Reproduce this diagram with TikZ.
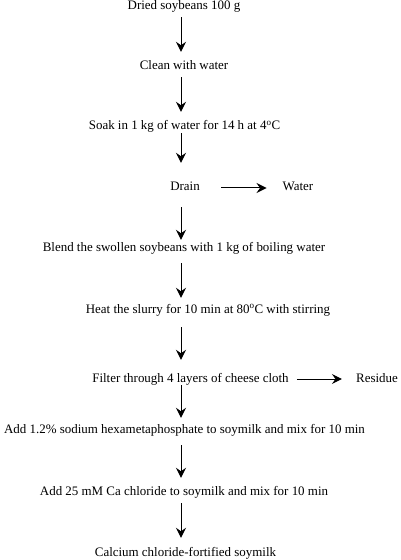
\documentclass[tikz,border=0pt]{standalone}
\usepackage{fontspec}
\setmainfont{Liberation Serif}
\usetikzlibrary{arrows.meta}
\tikzstyle{stage}=[inner sep=0pt,text height=9bp,text depth=3bp,font=\fontsize{13}{15}\selectfont]
\tikzstyle{flow} = [draw,line width=1bp,-{Stealth[length=10bp,width=10bp,inset=3.5bp]}]
\tikzstyle{down} = [flow]
\tikzstyle{side} = [flow]

\begin{document}
\begin{tikzpicture}[x=1bp,y=-1bp]
  \useasboundingbox (0,0) rectangle (400,560);

  % define the process steps
  \foreach \pos/\name/\label in {
    {(184,7)/Dried soybeans 100 g/dried},
    {(184,67)/Clean with water/clean},
    {(184.5,127)/Soak in 1 kg of water for 14 h at 4\textsuperscript{o}C/soak},
    {(185,188)/Drain/drain},
    {(298,188)/Water/water},
    {(184,248)/Blend the swollen soybeans with 1 kg of boiling water/blend},
    {(208,310)/Heat the slurry for 10 min at 80\textsuperscript{o}C with stirring/heat},
    {(190.5,379)/Filter through 4 layers of cheese cloth/filter},
    {(377,379)/Residue/residue},
    {(184.5,430)/Add 1.2\% sodium hexametaphosphate to soymilk and mix for 10 min/addhmp},
    {(184,492)/Add 25 mM Ca chloride to soymilk and mix for 10 min/addcacl},
    {(185.5,553)/Calcium chloride-fortified soymilk/soymilk}}
    \node[stage] (\label) at \pos {\name} ;

  \coordinate (spine) at (181,0);

  % main line, straight down
  \path[down, shorten <=4bp, shorten >=9bp]  (dried.south -| spine)  -- (clean.north -| spine);
  \path[down, shorten <=4bp, shorten >=9bp]  (clean.south -| spine)  -- (soak.north -| spine);
  \path[down, shorten <=0bp, shorten >=19bp]  (soak.south -| spine)  -- (drain.north -| spine);
  \path[down, shorten <=13bp, shorten >=2bp]  (drain.south -| spine)  -- (blend.north -| spine);
  \path[down, shorten <=9bp, shorten >=6bp]  (blend.south -| spine)  -- (heat.north -| spine);
  \path[down, shorten <=11bp, shorten >=13bp]  (heat.south -| spine)  -- (filter.north -| spine);
  \path[down, shorten <=0bp, shorten >=6bp]  (filter.south -| spine)  -- (addhmp.north -| spine);
  \path[down, shorten <=9bp, shorten >=8bp]  (addhmp.south -| spine)  -- (addcacl.north -| spine);
  \path[down, shorten <=5bp, shorten >=9bp]  (addcacl.south -| spine)  -- (soymilk.north -| spine);

  % side streams
  \path[side, shorten <=21.5bp, shorten >=16bp]  (drain.east)  -- (water.west);
  \path[side, shorten <=8bp, shorten >=14bp]  (filter.east)  -- (residue.west);
\end{tikzpicture}
\end{document}
